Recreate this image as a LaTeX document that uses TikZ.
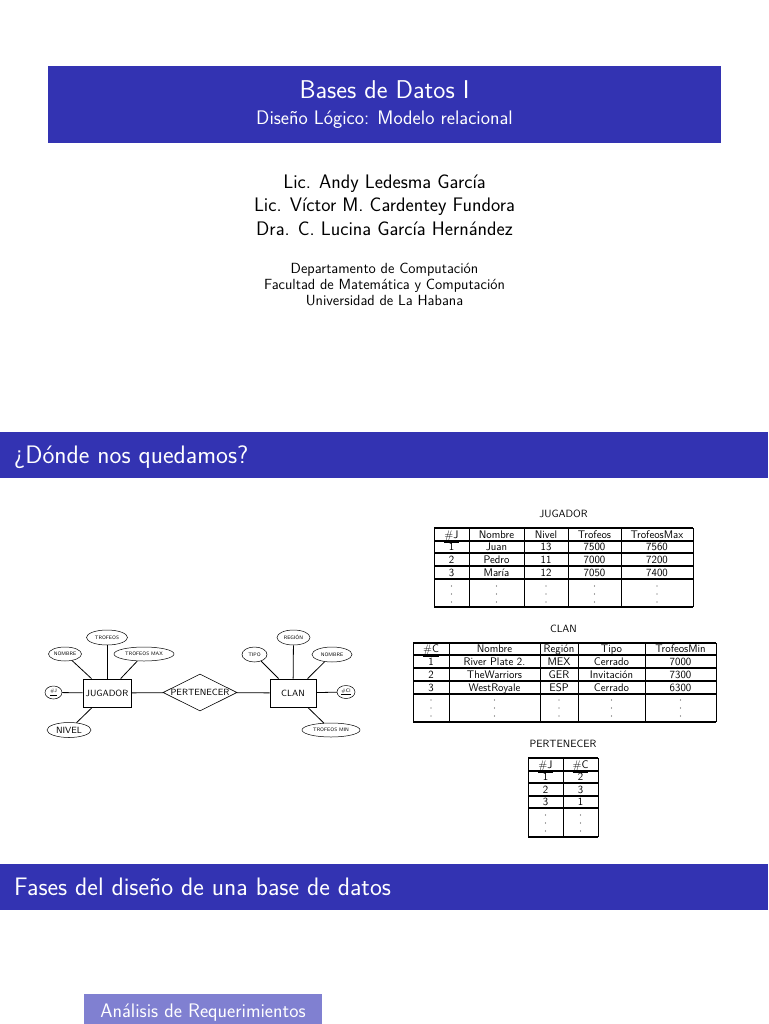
\documentclass[tikz,border=0pt]{standalone}
\usepackage{fontspec}
\renewcommand{\familydefault}{\sfdefault}
\usetikzlibrary{shapes.geometric, positioning}

\definecolor{bandblue}{RGB}{51,51,178}
\definecolor{boxblue}{RGB}{128,128,209}
\newcommand{\sz}[2]{\fontsize{#1}{#2}\selectfont}

\begin{document}
\begin{tikzpicture}[
    x=1pt, y=-1pt,
    band/.style={fill=bandblue, draw=none, inner sep=0},
    headtext/.style={text=white, anchor=base, inner sep=0},
    bodytext/.style={anchor=base, inner sep=0},
    entity/.style={rectangle, draw, line width=0.8pt, minimum height=28, inner sep=0, font=\sz{9}{11}},
    relation/.style={diamond, draw, line width=0.6pt, aspect=2, minimum width=74, minimum height=37, inner sep=0, font=\sz{9}{11}},
    attr/.style={ellipse, draw, line width=0.5pt, inner sep=0, font=\sz{5}{6}},
    erline/.style={line width=0.8pt},
    cell/.style={inner sep=0, font=\sz{11}{13}, text height=7.6pt, text depth=0pt},
    vrule/.style={line width=0.8pt},
    hrule/.style={line width=1.4pt},
    tabtitle/.style={anchor=base, inner sep=0, font=\sz{10.5}{12}}
]
\useasboundingbox (0,0) rectangle (768,1024);

% portada
\node[band, minimum width=673, minimum height=77] (titleband) at (384.5,104.5) {};
\node[headtext, font=\sz{25.7}{30}] (title) at (384.5,98.5) {Bases de Datos I};
\node[headtext, font=\sz{19.6}{23}] (subtitle) at (384.5,125) {Diseño Lógico: Modelo relacional};
\foreach \t [count=\i] in {Lic. Andy Ledesma García, Lic. Víctor M. Cardentey Fundora, Dra. C. Lucina García Hernández}
    \node[bodytext, font=\sz{19.6}{23}] (author\i) at (384.5,{188.5+23.5*(\i-1)}) {\t};
\foreach \t [count=\i] in {Departamento de Computación, Facultad de Matemática y Computación, Universidad de La Habana}
    \node[bodytext, font=\sz{14.7}{16}] (dept\i) at (384.5,{273+16*(\i-1)}) {\t};

% frame: donde nos quedamos
\node[band, minimum width=768, minimum height=46] (band1) at (384,455) {};
\node[headtext, anchor=base west, font=\sz{25.3}{30}] (frametitle1) at (14,463.5) {¿Dónde nos quedamos?};

% modelo entidad-relacion
\node[entity, minimum width=48] (jugador) at (107,693) {JUGADOR};
\node[relation] (pertenecer) at (200,692.5) {PERTENECER};
\node[entity, minimum width=46] (clan) at (293,693) {CLAN};
\node[attr, minimum width=17, minimum height=13] (idj) at (53.5,692.5) {\underline{\#J}};
\node[attr, minimum width=33, minimum height=14] (nombrej) at (65,654) {NOMBRE};
\node[attr, minimum width=41, minimum height=15] (trofeos) at (107,637.5) {TROFEOS};
\node[attr, minimum width=60, minimum height=14] (trofmax) at (144,654) {TROFEOS MAX};
\node[attr, minimum width=44, minimum height=15, font=\sz{9}{11}] (nivel) at (69,730) {NIVEL};
\node[attr, minimum width=25, minimum height=15] (tipo) at (254.5,654.5) {TIPO};
\node[attr, minimum width=33, minimum height=15] (region) at (293.5,637.5) {REGIÓN};
\node[attr, minimum width=40, minimum height=15] (nombrec) at (332,654.5) {NOMBRE};
\node[attr, minimum width=18, minimum height=13] (idc) at (346,692) {\underline{\#Cl}};
\node[attr, minimum width=58, minimum height=14] (trofmin) at (331,730) {TROFEOS MIN};

\foreach \a in {idj,nombrej,trofeos,trofmax,nivel}
    \draw[erline] (jugador) -- (\a);
\foreach \a in {tipo,region,nombrec,idc,trofmin}
    \draw[erline] (clan) -- (\a);
\draw[erline] (jugador) -- (pertenecer);
\draw[erline] (pertenecer) -- (clan);

% tabla JUGADOR
\node[tabtitle] (jugtitle) at (563.5,517) {JUGADOR};
\foreach \x in {434,469,524,568,621,693}
    \draw[vrule] (\x,528) -- (\x,607);
\foreach \y in {528,541,553,566,579,607}
    \draw[hrule] (434,\y) -- (693,\y);
\foreach \y/\ca/\cb/\cc/\cd/\ce [count=\r] in {534.5/{\underline{\#J}}/Nombre/Nivel/Trofeos/TrofeosMax,
        547/1/Juan/13/7500/7560, 559.5/2/Pedro/11/7000/7200, 572.5/3/María/12/7050/7400} {
    \node[cell] (jug-\r-a) at (451.5,\y) {\ca};
    \node[cell] (jug-\r-b) at (496.5,\y) {\cb};
    \node[cell] (jug-\r-c) at (546,\y) {\cc};
    \node[cell] (jug-\r-d) at (594.5,\y) {\cd};
    \node[cell] (jug-\r-e) at (657,\y) {\ce};
}
\foreach \x in {451.5,496.5,546,594.5,657}
    \foreach \y in {586,594,602}
        \fill[black!70] (\x,\y) circle (0.6);

% tabla CLAN
\node[tabtitle] (clantitle) at (563.5,632) {CLAN};
\foreach \x in {413,449,540,578,645,716}
    \draw[vrule] (\x,643) -- (\x,722);
\foreach \y in {643,655,668,681,694,722}
    \draw[hrule] (413,\y) -- (716,\y);
\foreach \y/\ca/\cb/\cc/\cd/\ce [count=\r] in {649/{\underline{\#C}}/Nombre/Región/Tipo/TrofeosMin,
        661.5/1/River Plate 2./MEX/Cerrado/7000, 674.5/2/TheWarriors/GER/Invitación/7300,
        687.5/3/WestRoyale/ESP/Cerrado/6300} {
    \node[cell] (clan-\r-a) at (431,\y) {\ca};
    \node[cell] (clan-\r-b) at (494.5,\y) {\cb};
    \node[cell] (clan-\r-c) at (559,\y) {\cc};
    \node[cell] (clan-\r-d) at (611.5,\y) {\cd};
    \node[cell] (clan-\r-e) at (680.5,\y) {\ce};
}
\foreach \x in {431,494.5,559,611.5,680.5}
    \foreach \y in {700,708,716}
        \fill[black!70] (\x,\y) circle (0.6);

% tabla PERTENECER
\node[tabtitle] (pertitle) at (563,747) {PERTENECER};
\foreach \x in {528,563,598}
    \draw[vrule] (\x,758) -- (\x,837);
\foreach \y in {758,771,783,796,808,837}
    \draw[hrule] (528,\y) -- (598,\y);
\foreach \y/\ca/\cb [count=\r] in {764.5/{\underline{\#J}}/{\underline{\#C}}, 777/1/2, 789.5/2/3, 802/3/1} {
    \node[cell] (per-\r-a) at (545.5,\y) {\ca};
    \node[cell] (per-\r-b) at (580.5,\y) {\cb};
}
\foreach \x in {545.5,580.5}
    \foreach \y in {815,823,831}
        \fill[black!70] (\x,\y) circle (0.6);

% frame: fases del diseno
\node[band, minimum width=768, minimum height=46] (band2) at (384,887) {};
\node[headtext, anchor=base west, font=\sz{25.3}{30}] (frametitle2) at (14,895.5) {Fases del diseño de una base de datos};
\node[fill=boxblue, minimum width=238, minimum height=30, inner sep=0] (analisis) at (203,1009) {};
\node[headtext, font=\sz{19.6}{23}] (analisistext) at (203,1017) {Análisis de Requerimientos};
\end{tikzpicture}
\end{document}
